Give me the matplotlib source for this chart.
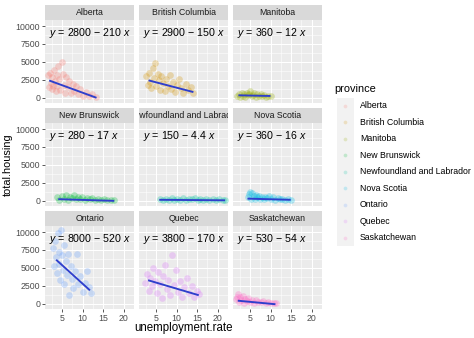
import matplotlib
matplotlib.use("Agg")
import matplotlib.pyplot as plt
from matplotlib.patches import Rectangle

plt.rcParams['font.family'] = ['Liberation Sans', 'DejaVu Sans']
plt.rcParams['mathtext.fontset'] = 'custom'
plt.rcParams['mathtext.rm'] = 'Liberation Sans'
plt.rcParams['mathtext.it'] = 'Liberation Sans:italic'

provinces = ['Alberta', 'British Columbia', 'Manitoba', 'New Brunswick',
             'Newfoundland and Labrador', 'Nova Scotia', 'Ontario', 'Quebec',
             'Saskatchewan']
colors = ['#F8766D', '#D39200', '#93AA00', '#00BA38', '#00C19F', '#00B9E3',
          '#619CFF', '#DB72FB', '#FF61C3']

# regression coefficients (total.housing = intercept - slope * unemployment.rate)
intercepts = [2800, 2900, 360, 280, 150, 360, 8000, 3800, 530]
slopes = [210, 150, 12, 17, 4.4, 16, 520, 170, 54]
fit_xmin = [1.9, 3.2, 2.2, 4.1, 5.8, 4.4, 3.6, 3.1, 2.05]
fit_xmax = [13.4, 14.1, 10.0, 17.7, 21.8, 14.9, 11.8, 15.4, 11.2]

# scatter points (unemployment.rate, total.housing)
alberta_x = [1.6, 1.9, 2.1, 2.3, 2.5, 2.7, 2.9, 3.1, 3.3, 3.5, 3.7, 3.9, 4.1, 4.3, 4.6, 4.9, 5.2,
             5.5, 5.8, 6.1, 6.4, 6.8, 7.2, 7.6, 8.0, 8.5, 9.0, 9.5, 10.1, 10.8, 11.6, 12.4, 13.2]
alberta_y = [3100, 1500, 3500, 2000, 1200, 2900, 1700, 3900, 2300, 900, 3100, 1600, 4400, 2600, 1100,
             5000, 3300, 1800, 700, 2900, 1500, 2300, 600, 1900, 1000, 1600, 500, 1200, 300, 800,
             200, 500, 100]
bc_x = [2.7, 3.0, 3.3, 3.6, 3.9, 4.2, 4.5, 4.8, 5.1, 5.4, 5.7, 6.0, 6.3, 6.7, 7.1, 7.5, 7.9, 8.3,
        8.7, 9.1, 9.6, 10.1, 10.6, 11.1, 11.6, 12.2, 12.8, 13.4, 14.0]
bc_y = [3000, 1800, 3500, 2200, 1400, 4100, 2700, 4800, 1600, 3300, 2400, 1100, 3000, 2000, 900,
        2600, 1700, 3100, 1200, 2200, 800, 1800, 2600, 1300, 700, 1900, 1100, 1500, 700]
manitoba_x = [1.9, 2.3, 2.7, 3.0, 3.3, 3.6, 3.9, 4.2, 4.5, 4.8, 5.1, 5.4, 5.7, 6.0, 6.4, 6.8,
              7.2, 7.6, 8.0, 8.5, 9.0, 9.5, 10.0]
manitoba_y = [300, 500, 150, 600, 250, 450, 100, 700, 350, 550, 1000, 200, 400, 650, 150, 500,
              300, 450, 200, 350, 150, 300, 200]
nb_x = [3.9, 4.4, 4.9, 5.4, 5.9, 6.4, 6.9, 7.4, 7.9, 8.4, 8.9, 9.4, 9.9, 10.5, 11.1, 11.7, 12.3,
        13.0, 13.7, 14.4, 15.2, 16.0, 16.8, 17.6]
nb_y = [450, 150, 600, 300, 750, 100, 550, 350, 800, 200, 500, 300, 450, 150, 350, 250, 400, 150,
        250, 100, 200, 80, 150, 50]
nl_x = [6.0, 6.7, 7.4, 8.1, 8.8, 9.5, 10.2, 10.9, 11.6, 12.3, 13.0, 13.7, 14.4, 15.1, 15.8, 16.5,
        17.2, 18.0, 18.8, 19.6, 20.4, 21.2, 21.7]
nl_y = [200, 80, 280, 120, 320, 60, 250, 150, 400, 100, 300, 180, 380, 90, 260, 150, 300, 110,
        220, 80, 180, 120, 60]
ns_x = [4.5, 4.8, 5.1, 5.3, 5.6, 5.9, 6.2, 6.5, 6.8, 7.1, 7.5, 7.9, 8.3, 8.7, 9.1, 9.6, 10.1,
        10.6, 11.1, 11.7, 12.3, 12.9, 13.6, 14.3, 14.9]
ns_y = [500, 900, 1250, 300, 1100, 600, 200, 800, 450, 650, 300, 550, 200, 500, 350, 600, 250,
        450, 150, 350, 250, 300, 150, 200, 100]
ontario_x = [2.8, 3.1, 3.4, 3.6, 3.8, 4.0, 4.2, 4.4, 4.6, 4.8, 5.0, 5.2, 5.4, 5.6, 5.9, 6.2, 6.5,
             6.8, 7.1, 7.4, 7.8, 8.2, 8.6, 9.0, 9.5, 10.0, 10.5, 11.0, 11.6, 12.1]
ontario_y = [7800, 5200, 8800, 6500, 4300, 9800, 7200, 5600, 3300, 10300, 6800, 4700, 8200, 2800,
             6000, 4000, 7000, 1200, 5300, 3400, 2200, 4500, 6900, 2700, 3800, 1600, 2900, 4600,
             2300, 1500]
quebec_x = [2.4, 2.8, 3.2, 3.6, 4.0, 4.4, 4.8, 5.2, 5.6, 6.0, 6.4, 6.8, 7.2, 7.6, 8.0, 8.4, 8.9,
            9.4, 9.9, 10.4, 10.9, 11.4, 11.9, 12.5, 13.1, 13.7, 14.3, 14.9, 15.4]
quebec_y = [2900, 4200, 1800, 3600, 2400, 5000, 3100, 1500, 4400, 2700, 800, 3800, 5400, 2000,
            3300, 1200, 6800, 2600, 4700, 1600, 3100, 900, 2300, 3600, 1500, 2400, 1000, 1800, 1300]
sask_x = [1.5, 1.8, 2.1, 2.3, 2.6, 2.9, 3.2, 3.5, 3.8, 4.2, 4.6, 5.0, 5.5, 6.0, 6.5, 7.0, 7.6,
          8.2, 8.8, 9.5, 10.2, 10.9, 11.3]
sask_y = [600, 1000, 1400, 300, 900, 500, 1100, 150, 700, 400, 800, 250, 550, 100, 450, 300, 200,
          350, 100, 200, 80, 120, 50]

xs = [alberta_x, bc_x, manitoba_x, nb_x, nl_x, ns_x, ontario_x, quebec_x, sask_x]
ys = [alberta_y, bc_y, manitoba_y, nb_y, nl_y, ns_y, ontario_y, quebec_y, sask_y]

x_ticks = [5, 10, 15, 20]
y_ticks = [0, 2500, 5000, 7500, 10000]

W, H = 474, 338
fig = plt.figure(figsize=(W / 72, H / 72), dpi=72)
fig.patch.set_facecolor('white')

col_left = [45, 139, 233]
row_top = [20, 123, 226]
pw, ph, sh = 89, 83, 15


def px_rect(x, y, w, h):
    return [x / W, 1 - (y + h) / H, w / W, h / H]


for i, prov in enumerate(provinces):
    r, c = divmod(i, 3)
    ax = fig.add_axes(px_rect(col_left[c], row_top[r], pw, ph))
    ax.set_facecolor('#EBEBEB')
    ax.set_xlim(0.89, 22.5)
    ax.set_ylim(-740, 10840)
    ax.set_xticks(x_ticks)
    ax.set_yticks(y_ticks)
    ax.set_xticks([2.5, 7.5, 12.5, 17.5, 22.5], minor=True)
    ax.set_yticks([1250, 3750, 6250, 8750], minor=True)
    ax.grid(which='major', color='white', linewidth=1.0)
    ax.grid(which='minor', color='white', linewidth=0.5)
    ax.set_axisbelow(True)
    for s in ax.spines.values():
        s.set_visible(False)
    ax.tick_params(which='minor', length=0)
    ax.tick_params(which='major', length=2.75, width=0.8, color='#333333',
                   labelsize=8.8, labelcolor='#4D4D4D', pad=2.2)
    if c != 0:
        ax.tick_params(axis='y', length=0, labelleft=False)
    if r != 2:
        ax.tick_params(axis='x', length=0, labelbottom=False)

    ax.scatter(xs[i], ys[i], s=45, color=colors[i], alpha=0.28, linewidths=0, zorder=2)
    lx = [fit_xmin[i], fit_xmax[i]]
    ly = [intercepts[i] - slopes[i] * v for v in lx]
    ax.plot(lx, ly, color='#2F3FCC', linewidth=1.9, zorder=3, solid_capstyle='butt')
    ax.text(1.95, 8980, f'$y$ = {intercepts[i]:g} \u2212 {slopes[i]:g} $x$',
            fontsize=10.6, color='black', ha='left', va='center', zorder=4)

    sax = fig.add_axes(px_rect(col_left[c], row_top[r] - sh, pw, sh))
    sax.set_facecolor('#D9D9D9')
    sax.set_xticks([])
    sax.set_yticks([])
    for s in sax.spines.values():
        s.set_visible(False)
    sax.text(0.5, 0.5, prov, transform=sax.transAxes, ha='center', va='center',
             fontsize=8.8, color='#1A1A1A', clip_on=True)

# overlay for axis titles and legend (pixel coordinates)
ov = fig.add_axes([0, 0, 1, 1])
ov.set_xlim(0, W)
ov.set_ylim(H, 0)
ov.axis('off')
ov.patch.set_alpha(0)

ov.text(8, 164.5, 'total.housing', rotation=90, ha='center', va='center', fontsize=11)
ov.text(183.5, 327.5, 'unemployment.rate', ha='center', va='center', fontsize=11.5)

ov.text(334, 89, 'province', ha='left', va='center', fontsize=11)
key_top, key_h = 97.7, 16.5
ov.add_patch(Rectangle((337, key_top), 17, key_h * len(provinces),
                       facecolor='#F2F2F2', edgecolor='none'))
for i, prov in enumerate(provinces):
    cy = key_top + key_h * (i + 0.5)
    ov.scatter([345.5], [cy], s=14, color=colors[i], alpha=0.2, linewidths=0)
    ov.text(360, cy, prov, ha='left', va='center', fontsize=8.8, color='black')

fig.savefig('out.png', dpi=72)
